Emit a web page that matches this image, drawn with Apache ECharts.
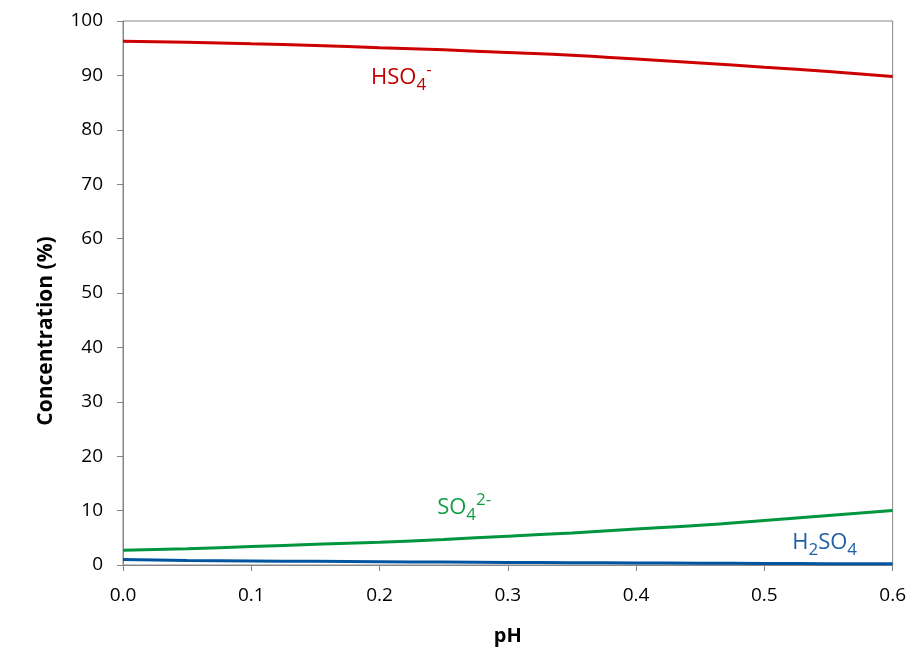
<!DOCTYPE html>
<html>
<head>
<meta charset="utf-8">
<script src="https://cdn.jsdelivr.net/npm/echarts@6/dist/echarts.min.js"></script>
<style>
  html, body { margin: 0; padding: 0; background: #fff; }
  #chart { width: 909px; height: 656px; }
</style>
</head>
<body>
<div id="chart"></div>
<script>
// pH values (x) and concentrations (%)
const ph = [0.0, 0.05, 0.1, 0.15, 0.2, 0.25, 0.3, 0.35, 0.4, 0.45, 0.5, 0.55, 0.6]
const hso4 = [96.3, 96.1, 95.8, 95.5, 95.1, 94.7, 94.2, 93.7, 93.0, 92.3, 91.5, 90.7, 89.8]
const so4 = [2.7, 3.0, 3.4, 3.8, 4.2, 4.7, 5.3, 5.9, 6.6, 7.3, 8.2, 9.1, 10.0]
const h2so4 = [1.0, 0.85, 0.75, 0.67, 0.6, 0.53, 0.47, 0.42, 0.37, 0.33, 0.29, 0.25, 0.22]

const xTicks = { min: 0, max: 0.6, interval: 0.1 }
const yTicks = { min: 0, max: 100, interval: 10 }

const font = "'Open Sans', sans-serif"
const axisGrey = '#868686'

function pairs(ys) {
  return ph.map((x, i) => [x, ys[i]])
}

// subscript / superscript styles for the species labels
function richFor(color, size) {
  return {
    m: { fontSize: size, color, fontFamily: font },
    sub: { fontSize: size - 5, color, fontFamily: font, padding: [15, 0, 0, 0] },
    sup: { fontSize: size - 5, color, fontFamily: font, padding: [0, 0, 15, 0] }
  }
}

function labelPoint(coord, text, color, size) {
  return {
    symbol: 'circle',
    symbolSize: 1,
    silent: true,
    itemStyle: { color: 'rgba(0,0,0,0)' },
    label: {
      show: true,
      position: 'inside',
      formatter: text,
      rich: richFor(color, size)
    },
    data: [{ coord }]
  }
}

const chart = echarts.init(document.getElementById('chart'))
chart.setOption({
  animation: false,
  grid: {
    left: 123,
    right: 16,
    top: 21,
    bottom: 91,
    show: true,
    borderColor: axisGrey,
    borderWidth: 1
  },
  xAxis: {
    type: 'value',
    ...xTicks,
    name: 'pH',
    nameLocation: 'middle',
    nameGap: 61,
    nameTextStyle: { fontFamily: font, fontSize: 20, fontWeight: 'bold', color: '#000' },
    axisLine: { lineStyle: { color: axisGrey } },
    axisTick: { show: true, length: 6, lineStyle: { color: axisGrey } },
    axisLabel: {
      fontFamily: font, fontSize: 19, color: '#000', margin: 21,
      formatter: v => v.toFixed(1)
    },
    splitLine: { show: false }
  },
  yAxis: {
    type: 'value',
    ...yTicks,
    name: 'Concentration (%)',
    nameLocation: 'middle',
    nameGap: 66,
    nameTextStyle: {
      fontFamily: font, fontSize: 21, fontWeight: 'bold', color: '#000',
      padding: [0, 76, 0, 0]
    },
    axisLine: { show: true, lineStyle: { color: axisGrey } },
    axisTick: { show: true, length: 6, lineStyle: { color: axisGrey } },
    axisLabel: { fontFamily: font, fontSize: 19, color: '#000', margin: 20 },
    splitLine: { show: false }
  },
  series: [
    {
      name: 'HSO4-',
      type: 'line',
      smooth: true,
      showSymbol: false,
      data: pairs(hso4),
      lineStyle: { color: '#CC0000', width: 3 },
      markPoint: labelPoint([0.217, 89.6], '{m|HSO}{sub|4}{sup|-}', '#C00000', 22)
    },
    {
      name: 'SO42-',
      type: 'line',
      smooth: true,
      showSymbol: false,
      data: pairs(so4),
      lineStyle: { color: '#00963E', width: 3 },
      markPoint: labelPoint([0.266, 10.5], '{m|SO}{sub|4}{sup|2-}', '#119F48', 22)
    },
    {
      name: 'H2SO4',
      type: 'line',
      smooth: true,
      showSymbol: false,
      data: pairs(h2so4),
      lineStyle: { color: '#0055A0', width: 3 },
      markPoint: labelPoint([0.547, 4.1], '{m|H}{sub|2}{m|SO}{sub|4}', '#1F5FA8', 22)
    }
  ]
})
</script>
</body>
</html>
